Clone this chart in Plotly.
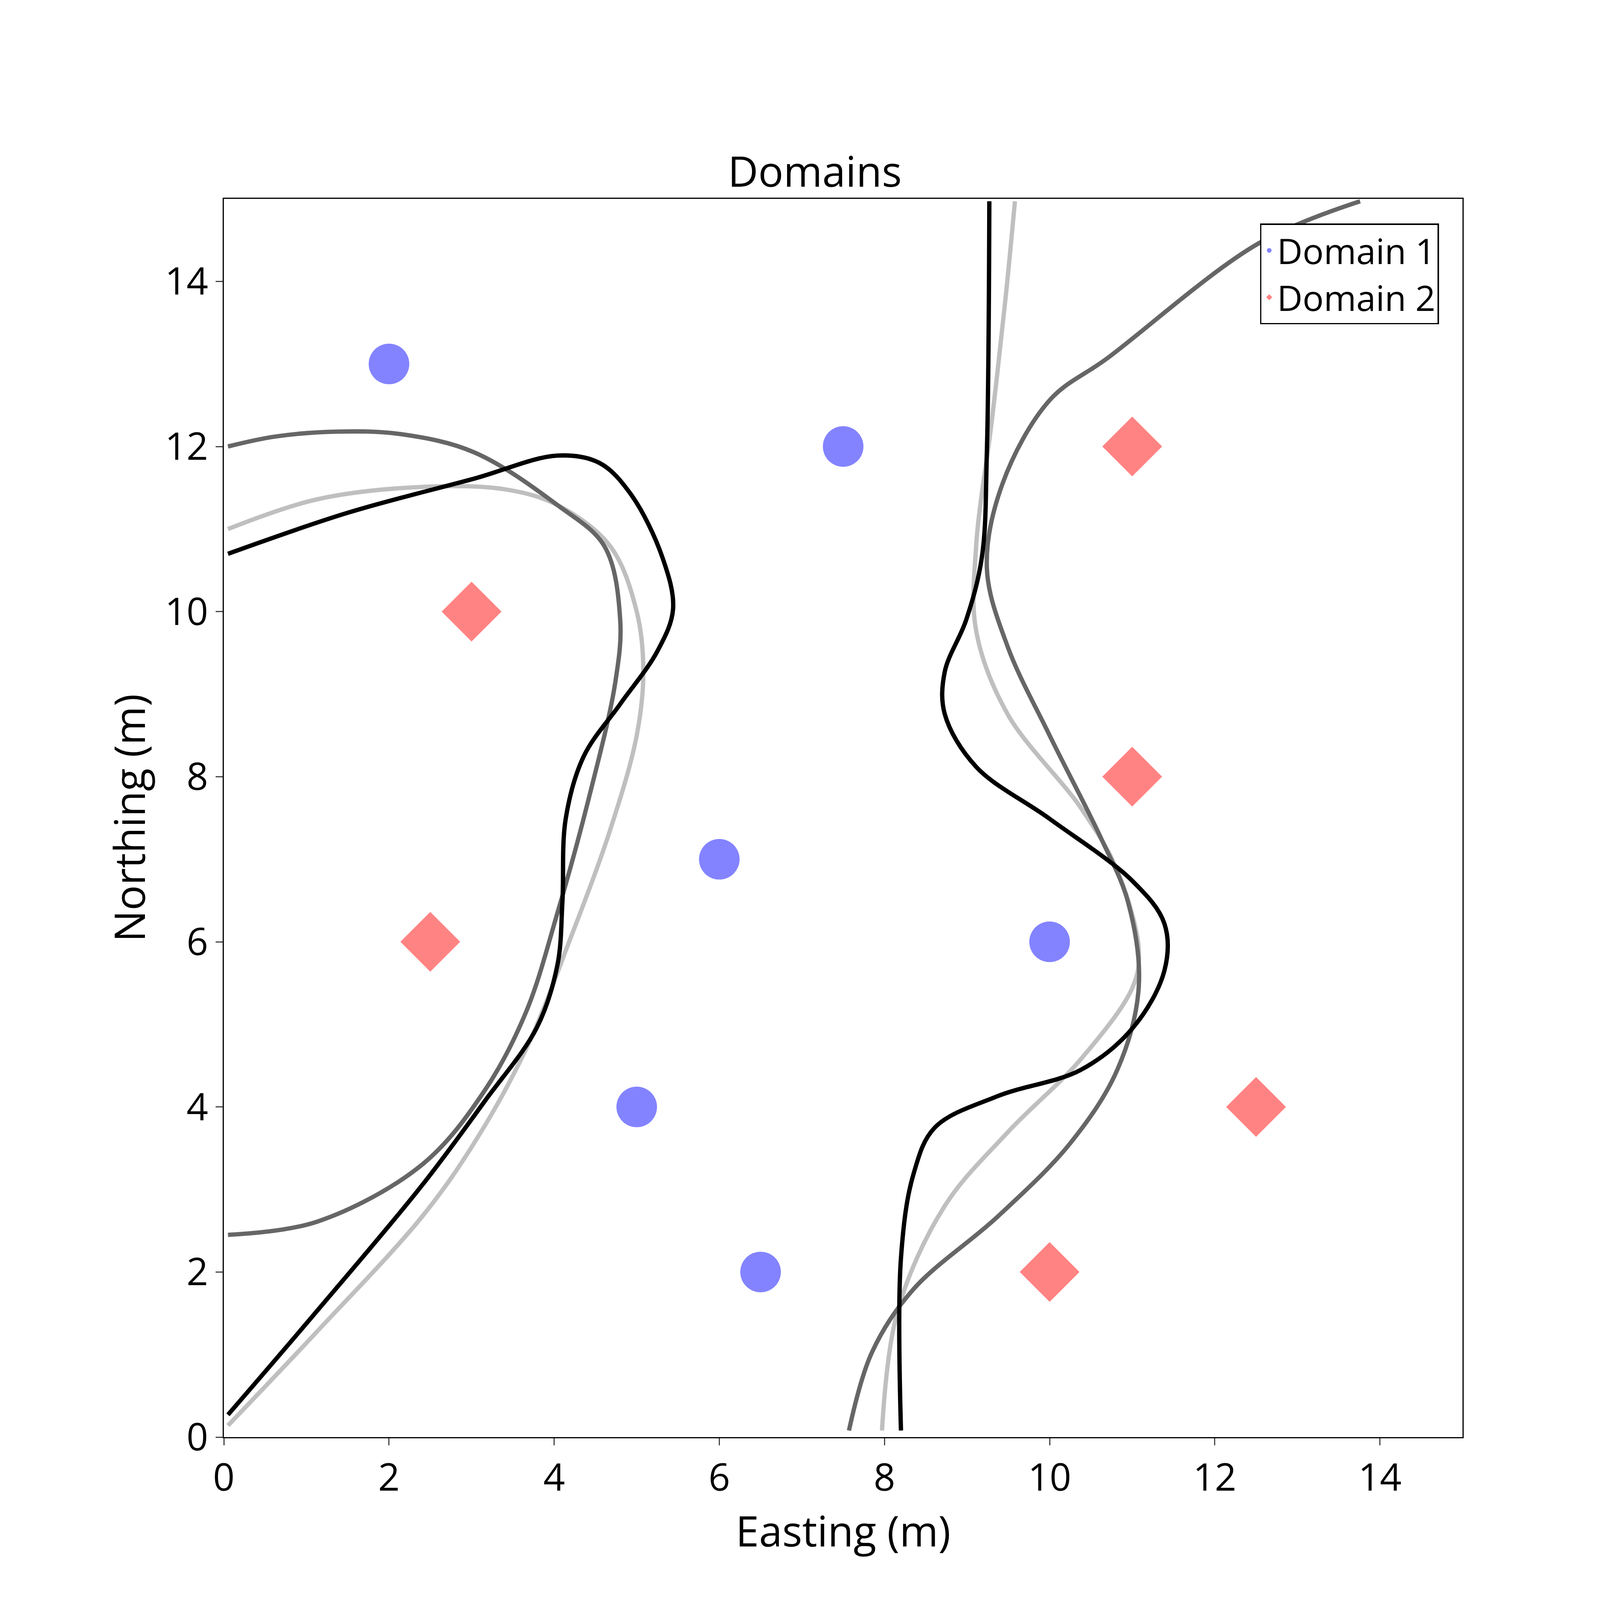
import plotly.graph_objects as go

# domain sample points
d1_x = [2, 7.5, 6, 10, 5, 6.5]
d1_y = [13, 12, 7, 6, 4, 2]
d2_x = [3, 2.5, 11, 11, 12.5, 10]
d2_y = [10, 6, 12, 8, 4, 2]

# boundary contours
dg_left_x = [0.05, 1.13, 2.4, 3.16, 3.66, 4.04, 4.42, 4.74, 4.8, 4.61, 4.04, 3.03, 2.14, 1.36, 0.62, 0.05]
dg_left_y = [2.45, 2.61, 3.3, 4.2, 5.15, 6.35, 7.74, 9.14, 9.9, 10.79, 11.29, 11.93, 12.15, 12.18, 12.12, 12.0]
lg_left_x = [0.05, 1.13, 2.4, 3.03, 3.66, 4.17, 4.68, 5.0, 5.08, 5.0, 4.68, 4.04, 3.41, 2.4, 1.13, 0.05]
lg_left_y = [0.14, 1.28, 2.67, 3.56, 4.7, 5.97, 7.36, 8.5, 9.27, 10.0, 10.79, 11.29, 11.48, 11.51, 11.36, 11.0]
bk_left_x = [0.05, 1.13, 2.4, 3.16, 3.79, 4.04, 4.1, 4.14, 4.36, 4.8, 5.25, 5.44, 5.31, 4.93, 4.55, 4.04, 3.03, 1.51, 0.05]
bk_left_y = [0.27, 1.53, 3.05, 4.07, 4.96, 5.72, 6.48, 7.49, 8.25, 8.88, 9.52, 10.03, 10.66, 11.42, 11.8, 11.89, 11.61, 11.2, 10.7]

dg_right_x = [7.57, 7.85, 8.35, 9.37, 10.25, 10.82, 11.08, 10.95, 10.63, 10.0, 9.49, 9.24, 9.43, 10.0, 10.7, 12.53, 13.76]
dg_right_y = [0.08, 1.03, 1.79, 2.67, 3.56, 4.45, 5.46, 6.48, 7.24, 8.5, 9.58, 10.53, 11.55, 12.56, 13.07, 14.46, 14.97]
lg_right_x = [7.97, 8.16, 8.73, 9.49, 10.38, 11.01, 11.08, 10.82, 10.38, 9.49, 9.11, 9.11, 9.3, 9.47, 9.58]
lg_right_y = [0.08, 1.53, 2.8, 3.69, 4.58, 5.46, 5.9, 6.86, 7.62, 8.76, 9.77, 10.79, 12.31, 13.83, 14.97]
bk_right_x = [8.2, 8.2, 8.35, 8.61, 9.37, 10.38, 11.01, 11.39, 11.39, 11.01, 10.0, 9.11, 8.73, 8.73, 8.99, 9.18, 9.24, 9.27]
bk_right_y = [0.08, 2.17, 3.18, 3.75, 4.13, 4.45, 4.96, 5.65, 6.22, 6.73, 7.49, 8.12, 8.76, 9.27, 9.9, 10.66, 11.93, 14.97]

S = 0.6926  # page scale so the figure fits the photographed window


def px(v):
    return v * S


fig = go.Figure()

curves = [
    (lg_left_x, lg_left_y, "#bfbfbf"), (lg_right_x, lg_right_y, "#bfbfbf"),
    (dg_left_x, dg_left_y, "#666666"), (dg_right_x, dg_right_y, "#666666"),
    (bk_left_x, bk_left_y, "#000000"), (bk_right_x, bk_right_y, "#000000"),
]
for cx, cy, col in curves:
    fig.add_trace(go.Scatter(x=cx, y=cy, mode="lines", showlegend=False,
                             line=dict(color=col, width=px(16), shape="spline", smoothing=1.0)))

fig.add_trace(go.Scatter(x=d1_x, y=d1_y, mode="markers", name="Domain 1",
                         marker=dict(symbol="circle", size=px(150), color="rgba(90,90,255,0.75)")))
fig.add_trace(go.Scatter(x=d2_x, y=d2_y, mode="markers", name="Domain 2",
                         marker=dict(symbol="diamond", size=px(170), color="rgba(255,90,90,0.75)")))

axis = dict(range=[0, 15], tickvals=[0, 2, 4, 6, 8, 10, 12, 14], showgrid=False, zeroline=False,
            showline=True, linecolor="black", linewidth=px(5), mirror=True,
            ticks="outside", ticklen=px(25), tickwidth=px(5), tickfont=dict(size=px(140)))

fig.update_layout(
    width=round(px(6000)), height=round(px(6000)),
    plot_bgcolor="white", paper_bgcolor="white",
    font=dict(family="Open Sans", color="black"),
    margin=dict(l=px(816), r=px(607), t=px(723), b=px(700)),
    title=dict(text="Domains", x=0.5, xanchor="center", y=0.905, font=dict(size=px(155))),
    xaxis=dict(axis, title=dict(text="Easting (m)", font=dict(size=px(155)))),
    yaxis=dict(axis, title=dict(text="Northing (m)", font=dict(size=px(155)))),
    legend=dict(x=0.981, y=0.98, xanchor="right", yanchor="top", bgcolor="white",
                bordercolor="black", borderwidth=px(5), font=dict(size=px(130)),
                itemsizing="constant"),
)

fig.write_html("out.html")
